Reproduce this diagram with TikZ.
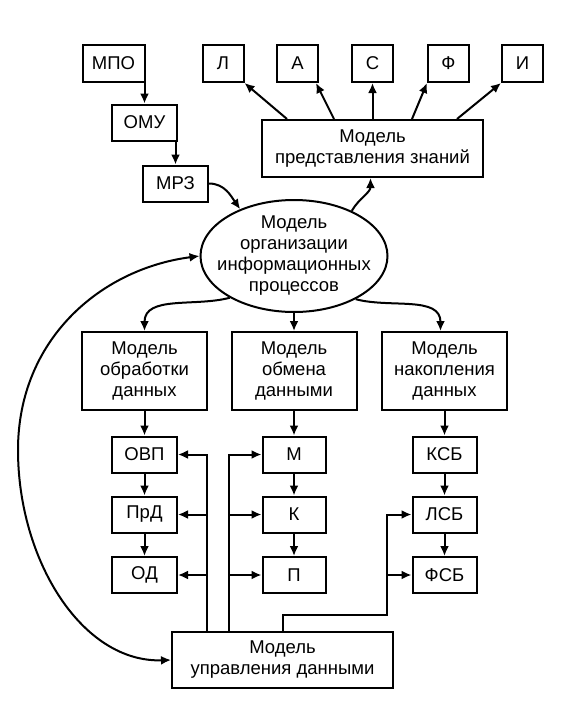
\documentclass[tikz,border=0pt]{standalone}
\usepackage{fontspec}
\setmainfont{Liberation Sans}
\usetikzlibrary{arrows.meta,shapes.geometric}

\begin{document}
\begin{tikzpicture}[x=1pt,y=1pt,line width=2pt,>={Latex[length=10pt,width=9pt]},
    every node/.style={font=\fontsize{18.5}{21}\selectfont},
    sbox/.style={draw,minimum width=65pt,minimum height=36pt,inner sep=0pt},
    lbox/.style={draw,minimum width=41pt,minimum height=37pt,inner sep=0pt},
    mbox/.style={draw,minimum width=125pt,minimum height=78pt,inner sep=0pt,align=center},
    wbox/.style={draw,minimum width=221pt,minimum height=56pt,inner sep=0pt,align=center}]
    \useasboundingbox[fill=white] (0,0) rectangle (566,-701);

    % top row
    \node[sbox,minimum width=62pt] (mpo) at (113.5,-63.5) {МПО};
    \node[sbox] (omu) at (144.5,-122.5) {ОМУ};
    \node[sbox] (mrz) at (175.5,-183.5) {МРЗ};
    \node[lbox] (l) at (223,-63.5) {Л};
    \node[lbox] (a) at (297.5,-63.5) {А};
    \node[lbox] (c) at (372.5,-63.5) {С};
    \node[lbox] (f) at (448.5,-63.5) {Ф};
    \node[lbox] (i) at (522.5,-63.5) {И};
    \node[wbox,minimum height=57pt] (kn) at (372.5,-148.5) {Модель\\представления знаний};

    \node[draw,ellipse,minimum width=187pt,minimum height=112pt,inner xsep=-14pt,inner ysep=-4pt,align=center] (org) at (294,-256) {Модель\\организации\\информационных\\процессов};

    % three models
    \node[mbox] (obr) at (144.5,-371) {Модель\\обработки\\данных};
    \node[mbox] (obm) at (294,-371) {Модель\\обмена\\данными};
    \node[mbox] (nak) at (444.5,-371) {Модель\\накопления\\данных};

    \node[sbox] (ovp) at (144.5,-454.5) {ОВП};
    \node[sbox] (prd) at (144.5,-514.5) {ПрД};
    \node[sbox] (od) at (144.5,-575) {ОД};
    \node[sbox,minimum width=63pt] (m) at (294,-454.5) {М};
    \node[sbox,minimum width=63pt] (k) at (294,-514.5) {К};
    \node[sbox,minimum width=63pt] (p) at (294,-575) {П};
    \node[sbox,minimum width=64pt] (ksb) at (444.5,-454.5) {КСБ};
    \node[sbox,minimum width=64pt] (lsb) at (444.5,-514.5) {ЛСБ};
    \node[sbox,minimum width=64pt] (fsb) at (444.5,-575) {ФСБ};

    \node[wbox] (upr) at (282.5,-660) {Модель\\управления данными};

    \draw[->] (mpo.south -| omu.north) -- (omu.north);
    \draw[->] (omu.south -| mrz.north) -- (mrz.north);
    \draw[->] (mrz.east) to[out=0,in=125] (org.139);
    \draw[->] (org.38) to[out=60,in=-90] ([xshift=-2pt]kn.south);

    \draw[->] ([xshift=26pt]kn.north west) -- (l.south east);
    \draw[->] ([xshift=73pt]kn.north west) -- ([xshift=-3pt]a.south east);
    \draw[->] (kn.north) -- (c.south);
    \draw[->] ([xshift=151pt]kn.north west) -- (f.south west);
    \draw[->] ([xshift=196pt]kn.north west) -- (i.south west);

    \draw[->] (org.213) to[out=195,in=90] (obr.north);
    \draw[->] (org.south) -- (obm.north);
    \draw[->] (org.325) to[out=-15,in=90] ([xshift=-4pt]nak.north);

    \draw[->] (obr) -- (ovp);
    \draw[->] (ovp) -- (prd);
    \draw[->] (prd) -- (od);
    \draw[->] (obm) -- (m);
    \draw[->] (m) -- (k);
    \draw[->] (k) -- (p);
    \draw[->] (nak) -- (ksb);
    \draw[->] (ksb) -- (lsb);
    \draw[->] (lsb) -- (fsb);

    % control model links
    \draw[<->] (org.west) .. controls (100,-269) and (18,-340) .. (18,-450)
      .. controls (18,-560) and (82,-663) .. (upr.west);
    \draw[->] ([xshift=36pt]upr.north west) |- (ovp.east);
    \draw[->] ([xshift=36pt]upr.north west) |- (prd.east);
    \draw[->] ([xshift=36pt]upr.north west) |- (od.east);
    \draw[->] ([xshift=58pt]upr.north west) |- (m.west);
    \draw[->] ([xshift=58pt]upr.north west) |- (k.west);
    \draw[->] ([xshift=58pt]upr.north west) |- (p.west);
    \coordinate (turn) at (387,-615);
    \draw[->] (upr.north) |- (turn) |- (lsb.west);
    \draw[->] (turn) |- (fsb.west);
\end{tikzpicture}
\end{document}
